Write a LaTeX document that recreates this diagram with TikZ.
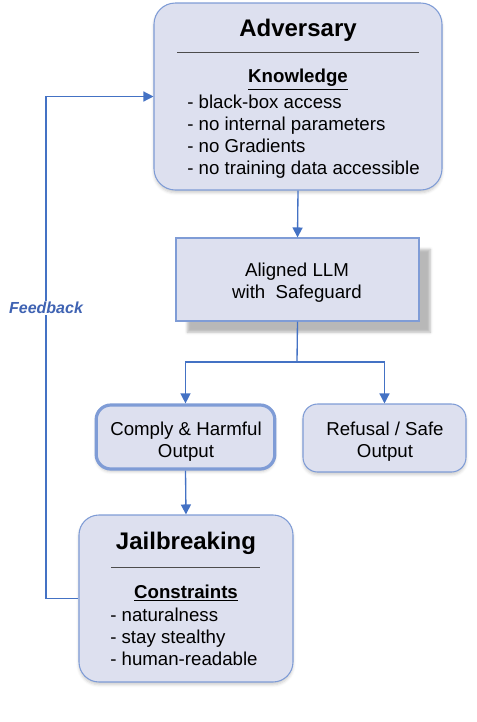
\documentclass[tikz,border=0pt]{standalone}
\usepackage{fontspec}
\setmainfont{Liberation Sans}
\usetikzlibrary{arrows.meta,shadows.blur}
\definecolor{boxfill}{HTML}{DDE0EF}
\definecolor{boxedge}{HTML}{7F9CD6}
\definecolor{arrowblue}{HTML}{4472C4}
\definecolor{fbblue}{HTML}{3F63B3}
\tikzset{
  rbox/.style={draw=boxedge, fill=boxfill, line width=0.8pt, inner sep=0pt,
    blur shadow={shadow xshift=0pt, shadow yshift=-2pt, shadow opacity=20, shadow blur steps=4}},
  sqbox/.style={draw=boxedge, fill=boxfill, line width=0.8pt, inner sep=0pt,
    blur shadow={shadow xshift=8.5pt, shadow yshift=-8.5pt, shadow opacity=28, shadow blur radius=2pt, shadow blur steps=4}},
  conn/.style={draw=arrowblue, line width=1pt},
  tip/.style={-{Triangle[length=7.5pt,width=7.5pt]}},
  title/.style={font=\fontsize{18pt}{21pt}\selectfont\bfseries, inner sep=0pt},
  body/.style={font=\fontsize{14pt}{16.5pt}\selectfont, inner sep=0pt},
  rule/.style={draw=black!70, line width=0.6pt},
}
\begin{document}
\begin{tikzpicture}[x=0.75pt,y=-0.75pt]
\useasboundingbox (0,0) rectangle (477,722);
% boxes
\node[rbox, rounded corners=16pt, minimum width=216pt, minimum height=140.25pt] (adv) at (298,96.5) {};
\node[sqbox, minimum width=182.25pt, minimum height=62.25pt] (llm) at (297.5,279.5) {};
\node[rbox, rounded corners=11pt, line width=2.4pt, minimum width=134pt, minimum height=48pt] (comply) at (185.5,437) {};
\node[rbox, rounded corners=11pt, minimum width=122.25pt, minimum height=51pt] (refusal) at (384.5,438) {};
\node[rbox, rounded corners=15pt, minimum width=160.5pt, minimum height=125.25pt] (jail) at (186,598.5) {};
% adversary content
\node[title] (advt) at (298,30) {Adversary};
\coordinate (advl1) at (177,52);
\coordinate (advl2) at (419,52);
\draw[rule] (advl1) -- (advl2);
\node[body, font=\fontsize{14pt}{16.5pt}\selectfont\bfseries] (know) at (298,79.5) {\underline{Knowledge}};
\node[body, align=left, anchor=west] (advlist) at (187,136.5) {- black-box access\\- no internal parameters\\- no Gradients\\- no training data accessible};
% llm content
\node[body, align=center] (llmt) at (297,282.5) {Aligned LLM\\with\ \ Safeguard};
% outputs
\node[body, align=center] (complyt) at (186,442) {Comply \& Harmful\\Output};
\node[body, align=center] (refusalt) at (385,442) {Refusal / Safe\\Output};
% jailbreaking content
\node[title] (jailt) at (186,543) {Jailbreaking};
\coordinate (jl1) at (111,567);
\coordinate (jl2) at (260,567);
\draw[rule] (jl1) -- (jl2);
\node[body, font=\fontsize{14pt}{16.5pt}\selectfont\bfseries] (cons) at (186,593) {\underline{Constraints}};
\node[body, align=left, anchor=west] (jaillist) at (110,637) {- naturalness\\- stay stealthy\\- human-readable};
% connectors
\draw[conn, tip] (adv.south) -- (llm.north);
\coordinate (split) at (297,362);
\draw[conn] (llm.south) -- (split);
\draw[conn, tip] (split) -| (comply.north);
\draw[conn, tip] (split) -| (refusal.north);
\draw[conn, tip] (comply.south) -- (jail.north);
\coordinate (fbc) at (46,598.5);
\draw[conn, tip] (jail.west) -- (fbc) |- (adv.west);
\node[fill=white, inner sep=1pt, text=fbblue, font=\fontsize{12pt}{14pt}\selectfont\bfseries\itshape] (fb) at (46,308) {Feedback};
\end{tikzpicture}
\end{document}
